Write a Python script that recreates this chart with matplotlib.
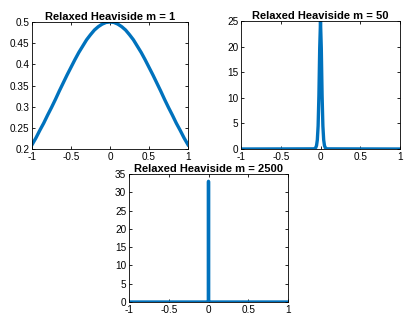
import numpy as np
import matplotlib
matplotlib.use("Agg")
import matplotlib.pyplot as plt
from matplotlib.ticker import FuncFormatter

# values
x_m1 = [-1.0, -0.95, -0.9, -0.85, -0.8, -0.75, -0.7, -0.65, -0.6, -0.55, -0.5,
        -0.45, -0.4, -0.35, -0.3, -0.25, -0.2, -0.15, -0.1, -0.05, 0.0,
        0.05, 0.1, 0.15, 0.2, 0.25, 0.3, 0.35, 0.4, 0.45, 0.5,
        0.55, 0.6, 0.65, 0.7, 0.75, 0.8, 0.85, 0.9, 0.95, 1.0]
y_m1 = [0.210, 0.226, 0.244, 0.261, 0.280, 0.298, 0.317, 0.337, 0.356, 0.375, 0.393,
        0.411, 0.428, 0.443, 0.458, 0.470, 0.481, 0.489, 0.495, 0.499, 0.500,
        0.499, 0.495, 0.489, 0.481, 0.470, 0.458, 0.443, 0.428, 0.411, 0.393,
        0.375, 0.356, 0.337, 0.317, 0.298, 0.280, 0.261, 0.244, 0.226, 0.210]

x_m50 = [-1.0, -0.08, -0.06, -0.05, -0.04, -0.03, -0.02, -0.01, 0.0,
         0.01, 0.02, 0.03, 0.04, 0.05, 0.06, 0.08, 1.0]
y_m50 = [0.0, 0.03, 0.25, 0.66, 1.77, 4.5, 10.5, 19.7, 25.0,
         19.7, 10.5, 4.5, 1.77, 0.66, 0.25, 0.03, 0.0]

x_m2500 = [-1.0, -0.001, 0.0, 0.001, 1.0]
y_m2500 = [0.0, 0.0, 33.0, 0.0, 0.0]

titles = ["Relaxed Heaviside m = 1", "Relaxed Heaviside m = 50", "Relaxed Heaviside m = 2500"]
ylims = [(0.2, 0.5), (0, 25), (0, 35)]
yticks = [np.arange(0.2, 0.501, 0.05), np.arange(0, 26, 5), np.arange(0, 36, 5)]
xticks = [-1, -0.5, 0, 0.5, 1]

plt.rcParams['font.family'] = ['Liberation Sans', 'DejaVu Sans']

W, H = 409, 321
fig = plt.figure(figsize=(W / 100, H / 100), dpi=100)

# axes boxes in pixels: left, right, top, bottom
boxes = [(32, 188, 22, 149), (241, 400, 21, 149), (129, 288, 174, 302)]
data = [(x_m1, y_m1), (x_m50, y_m50), (x_m2500, y_m2500)]

fmt = FuncFormatter(lambda v, p: "%g" % round(v, 6))

for (l, r, t, b), (xs, ys), title, yl, yt in zip(boxes, data, titles, ylims, yticks):
    ax = fig.add_axes([l / W, 1 - b / H, (r - l) / W, (b - t) / H])
    ax.plot(xs, ys, color='#0072BD', lw=2.4, solid_joinstyle='round')
    ax.set_xlim(-1, 1)
    ax.set_ylim(*yl)
    ax.set_xticks(xticks)
    ax.set_yticks(yt)
    ax.xaxis.set_major_formatter(fmt)
    ax.yaxis.set_major_formatter(fmt)
    ax.tick_params(direction='in', top=True, right=True, labelsize=7.2,
                   length=2.5, width=0.6, pad=2)
    for s in ax.spines.values():
        s.set_linewidth(0.6)
    ax.set_title(title, fontsize=8, fontweight='bold', pad=1.5)

fig.savefig("out.png", dpi=100)
